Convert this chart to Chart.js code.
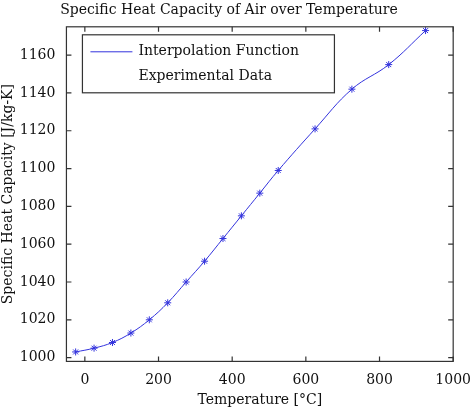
<!DOCTYPE html><html><head><script src="https://cdn.jsdelivr.net/npm/chart.js@4"></script>
<style>body{margin:0;background:#fff}#w{width:474px;height:409px}</style></head><body><div id="w"><canvas id="c"></canvas></div>
<script>
const temps=[-25,25,75,125,175,225,275,325,375,425,475,525,625,725,825,925];
const cp=[1003,1005,1008,1013,1020,1029,1040,1051,1063,1075,1087,1099,1121,1142,1155,1173];
const xTicks=[0,200,400,600,800,1000];
const yTicks=[1000,1020,1040,1060,1080,1100,1120,1140,1160];
const F='"DejaVu Serif", "Liberation Serif", serif';
const frame={id:'frame',afterDraw(ch){const c=ch.ctx,a=ch.chartArea,x=ch.scales.x,y=ch.scales.y;c.save();c.strokeStyle='#333';c.lineWidth=1.2;c.strokeRect(a.left,a.top,a.right-a.left,a.bottom-a.top);
xTicks.forEach(v=>{const p=x.getPixelForValue(v);c.beginPath();c.moveTo(p,a.bottom);c.lineTo(p,a.bottom-5);c.moveTo(p,a.top);c.lineTo(p,a.top+5);c.stroke();});
yTicks.forEach(v=>{const p=y.getPixelForValue(v);c.beginPath();c.moveTo(a.left,p);c.lineTo(a.left+5,p);c.moveTo(a.right,p);c.lineTo(a.right-5,p);c.stroke();});
const lx=a.left+16,ly=a.top+8;c.fillStyle='#fff';c.fillRect(lx,ly,252,58);c.strokeRect(lx,ly,252,58);
c.strokeStyle='#3333dd';c.lineWidth=1;c.beginPath();c.moveTo(lx+8,ly+17);c.lineTo(lx+50,ly+17);c.stroke();
Chart.helpers.drawPoint(c,{pointStyle:'star',radius:3.5,rotation:0},lx+29,ly+42);
c.fillStyle='#111';c.font='14px '+F;c.textBaseline='middle';c.fillText('Interpolation Function',lx+56,ly+17);c.fillText('Experimental Data',lx+56,ly+42);
c.restore();}};
new Chart(document.getElementById('c'),{type:'line',data:{datasets:[
{label:'Interpolation Function',data:temps.map((t,i)=>({x:t,y:cp[i]})),borderColor:'#3333dd',borderWidth:1,pointRadius:0,tension:0.4,fill:false},
{label:'Experimental Data',data:temps.map((t,i)=>({x:t,y:cp[i]})),showLine:false,pointStyle:'star',pointRadius:3.5,borderColor:'#3333dd',borderWidth:1,backgroundColor:'#3333dd'}]},
options:{animation:false,responsive:true,maintainAspectRatio:false,layout:{padding:{right:16,top:0}},
plugins:{legend:{display:false},title:{display:true,text:'Specific Heat Capacity of Air over Temperature',color:'#111',font:{family:F,size:14,weight:'normal'},padding:{top:2,bottom:8}},tooltip:{enabled:false}},
scales:{x:{type:'linear',min:-50,max:1000,afterBuildTicks(s){s.ticks=xTicks.map(v=>({value:v}))},grid:{display:false},border:{display:false},ticks:{color:'#111',font:{family:F,size:14},maxRotation:0,callback:v=>String(v)},title:{display:true,text:'Temperature [°C]',color:'#111',font:{family:F,size:14},padding:0}},
y:{min:998,max:1175,afterBuildTicks(s){s.ticks=yTicks.map(v=>({value:v}))},grid:{display:false},border:{display:false},ticks:{color:'#111',font:{family:F,size:14},callback:v=>String(v)},title:{display:true,text:'Specific Heat Capacity [J/kg-K]',color:'#111',font:{family:F,size:14},padding:0}}}},plugins:[frame]});
</script></body></html>
